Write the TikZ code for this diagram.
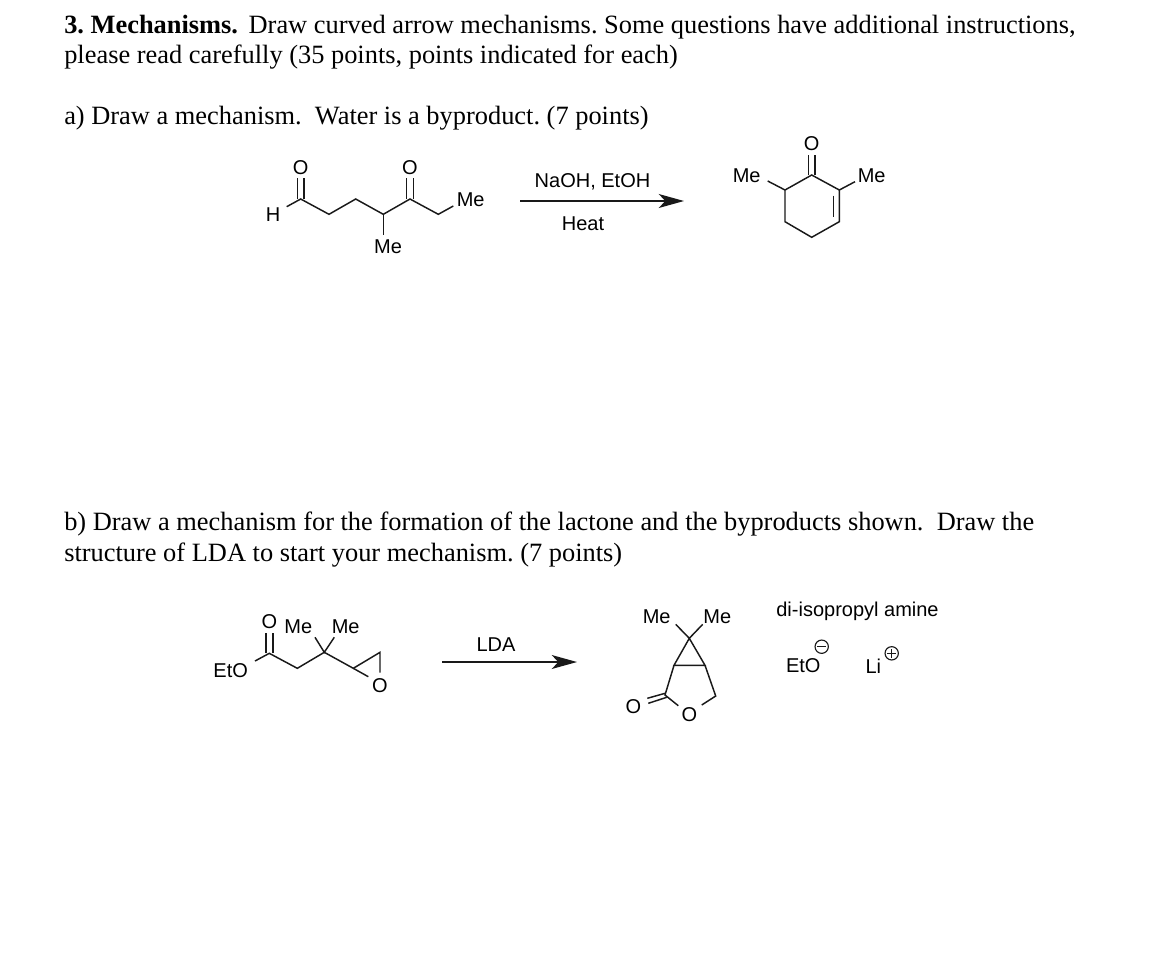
\documentclass[tikz,border=0pt]{standalone}
\usepackage{fontspec}
\setmainfont{Liberation Serif}
\setsansfont{Liberation Sans}
\usetikzlibrary{arrows.meta}
\frenchspacing
\begin{document}
\begin{tikzpicture}[
    x=0.75pt, y=-0.75pt,
    every node/.style={inner sep=0pt},
    prose/.style={anchor=base west, font=\rmfamily\fontsize{19.8}{24}\selectfont},
    atom/.style={font=\sffamily\fontsize{15}{18}\selectfont},
    bond/.style={line width=1.1pt, black!90, line join=miter},
    rxn/.style={line width=1.1pt, black!90, -{Stealth[length=19pt, width=10.5pt, inset=5pt]}},
    charge/.style={circle, draw=black!90, line width=0.85pt, minimum size=10pt}
]
\useasboundingbox (0,0) rectangle (1159,965);
% question text
\node[prose] (head1) at (64,33) {\textbf{3. Mechanisms.}\hspace{3pt} Draw curved arrow mechanisms. Some questions have additional instructions,};
\node[prose] (head2) at (64,63) {please read carefully (35 points, points indicated for each)};
\node[prose] (parta) at (64,124) {a) Draw a mechanism.\ \ Water is a byproduct. (7 points)};
\node[prose] (partb1) at (64,530) {b) Draw a mechanism for the formation of the lactone and the byproducts shown.\ \ Draw the};
\node[prose] (partb2) at (64,561) {structure of LDA to start your mechanism. (7 points)};
% a) starting material
\node[atom] (oxa) at (300.7,167.7) {O};
\node[atom] (oxb) at (410,167.7) {O};
\node[atom] (hyd) at (273,215) {H};
\node[atom] (mea) at (388,247) {Me};
\node[atom] (meb) at (470.7,199.5) {Me};
\coordinate (c1) at (300.7,199);
\coordinate (c2) at (329,214.3);
\coordinate (c3) at (355.7,199);
\coordinate (c4) at (383.3,214.3);
\coordinate (c5) at (410,199);
\coordinate (c6) at (438.3,214.3);
\coordinate (c7) at (453.3,206);
\coordinate (h1) at (286.7,206.7);
\coordinate (m1) at (383.3,235);
\coordinate (o1) at (300.7,178);
\coordinate (o2) at (410,178);
\draw[bond] (h1) -- (c1) -- (c2) -- (c3) -- (c4) -- (c5) -- (c6) -- (c7);
\draw[bond] (c4) -- (m1);
\draw[bond] ([xshift=-2.6pt]c1) -- ([xshift=-2.6pt]o1);
\draw[bond] ([xshift=2.6pt]c1) -- ([xshift=2.6pt]o1);
\draw[bond] ([xshift=-2.6pt]c5) -- ([xshift=-2.6pt]o2);
\draw[bond] ([xshift=2.6pt]c5) -- ([xshift=2.6pt]o2);
% a) arrow
\coordinate (ar1) at (520,201);
\coordinate (ar2) at (684,201);
\draw[rxn] (ar1) -- (ar2);
\node[atom] (naoh) at (592.5,181.5) {NaOH, EtOH};
\node[atom] (heat) at (583,224) {Heat};
% a) product
\node[atom] (oxc) at (811.7,143.3) {O};
\node[atom] (mec) at (746.7,175.5) {Me};
\node[atom] (med) at (871.7,176) {Me};
\coordinate (r1) at (811.7,175);
\coordinate (r2) at (839.3,190);
\coordinate (r3) at (839.3,221.7);
\coordinate (r4) at (811.7,237.3);
\coordinate (r5) at (785,221.7);
\coordinate (r6) at (785,190);
\coordinate (r7) at (767.7,181);
\coordinate (r8) at (855,181.7);
\coordinate (o3) at (811.7,155);
\coordinate (i1) at (833.3,195.7);
\coordinate (i2) at (833.3,216.7);
\draw[bond] (r1) -- (r2) -- (r3) -- (r4) -- (r5) -- (r6) -- cycle;
\draw[bond] (r6) -- (r7);
\draw[bond] (r2) -- (r8);
\draw[bond] (i1) -- (i2);
\draw[bond] ([xshift=-2.6pt]r1) -- ([xshift=-2.6pt]o3);
\draw[bond] ([xshift=2.6pt]r1) -- ([xshift=2.6pt]o3);
% b) starting material
\node[atom] (oxd) at (269.3,622) {O};
\node[atom] (eto) at (230.7,670.7) {EtO};
\node[atom] (mee) at (298.3,626.7) {Me};
\node[atom] (mef) at (345.7,626.7) {Me};
\node[atom] (oxe) at (380,686) {O};
\coordinate (e1) at (255,661);
\coordinate (e2) at (269.3,653.3);
\coordinate (e3) at (297.3,668.3);
\coordinate (e4) at (324.3,652.3);
\coordinate (e5) at (353.3,668.3);
\coordinate (e6) at (380,652.3);
\coordinate (e7) at (380,672.7);
\coordinate (e8) at (368.3,676.7);
\coordinate (e9) at (315,637.3);
\coordinate (e10) at (334.3,637.3);
\coordinate (o4) at (269.3,633.3);
\draw[bond] (e1) -- (e2) -- (e3) -- (e4) -- (e5) -- (e6) -- (e7);
\draw[bond] (e5) -- (e8);
\draw[bond] (e9) -- (e4) -- (e10);
\draw[bond] ([xshift=-2.6pt]e2) -- ([xshift=-2.6pt]o4);
\draw[bond] ([xshift=2.6pt]e2) -- ([xshift=2.6pt]o4);
% b) arrow
\coordinate (ar3) at (442,662);
\coordinate (ar4) at (577,662);
\draw[rxn] (ar3) -- (ar4);
\node[atom] (lda) at (496,645) {LDA};
% b) lactone and byproducts
\node[atom] (meg) at (656.7,617) {Me};
\node[atom] (meh) at (717.3,617) {Me};
\node[atom] (oxf) at (633.3,706.7) {O};
\node[atom] (oxg) at (689.3,715) {O};
\coordinate (l1) at (689.3,638.3);
\coordinate (l2) at (674,665.3);
\coordinate (l3) at (705,665.3);
\coordinate (l4) at (665,695);
\coordinate (l5) at (678.3,705.7);
\coordinate (l6) at (715.7,696);
\coordinate (l7) at (701.7,705);
\coordinate (l8) at (675.7,624.3);
\coordinate (l9) at (702.7,624.3);
\coordinate (d1) at (647.3,698.3);
\coordinate (d2) at (665,693.3);
\coordinate (d3) at (648.3,703.3);
\coordinate (d4) at (666.7,697.3);
\draw[bond] (l1) -- (l2) -- (l3) -- cycle;
\draw[bond] (l8) -- (l1) -- (l9);
\draw[bond] (l5) -- (l4) -- (l2);
\draw[bond] (l3) -- (l6) -- (l7);
\draw[bond] (d1) -- (d2);
\draw[bond] (d3) -- (d4);
\node[atom] (amine) at (857.5,611.5) {di-isopropyl amine};
\node[atom] (etob) at (803.3,666) {EtO};
\node[atom] (lith) at (873.3,666) {Li};
\node[charge] (minus) at (821.7,646.7) {};
\node[charge] (plus) at (891.7,653.3) {};
\draw[line width=0.85pt, black!90] ([xshift=-3.2pt]minus.center) -- ([xshift=3.2pt]minus.center);
\draw[line width=0.85pt, black!90] ([xshift=-3.2pt]plus.center) -- ([xshift=3.2pt]plus.center);
\draw[line width=0.85pt, black!90] ([yshift=-3.2pt]plus.center) -- ([yshift=3.2pt]plus.center);
\end{tikzpicture}
\end{document}
